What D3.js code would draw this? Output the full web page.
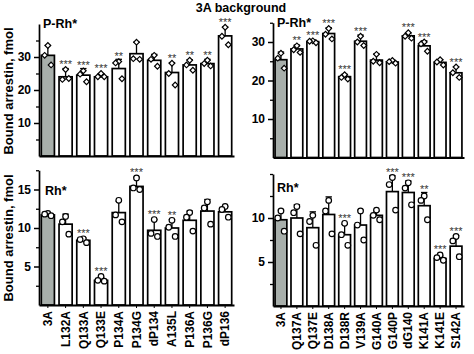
<!DOCTYPE html>
<html>
<head>
<meta charset="utf-8">
<script src="https://cdn.jsdelivr.net/npm/d3@7"></script>
<style>
  body { margin: 0; background: #fff; }
  svg { display: block; font-family: "Liberation Sans", Arial, sans-serif; }
  .stars { opacity: 0.99; }
</style>
</head>
<body>
<div id="chart_div"></div>
<script>
// categories
var leftCats = ["3A", "L132A", "Q133A", "Q133E", "P134A", "P134G", "dP134", "A135L", "P136A", "P136G", "dP136"];
var rightCats = ["3A", "Q137A", "Q137E", "D138A", "D138R", "V139A", "G140A", "G140P", "dG140", "K141A", "K141E", "S142A"];

// P-Rh*, left (mean, SD, single points, significance)
var prhLeftMean = [30.5, 24.0, 24.5, 24.0, 26.5, 31.0, 29.0, 25.3, 27.6, 28.0, 36.4];
var prhLeftSD = [3.0, 2.5, 2.0, 0.8, 2.8, 3.5, 1.8, 3.0, 1.6, 1.3, 2.7];
var prhLeftPts = [[33.5, 30.5, 27.6], [26.2, 23.2, 23.5], [25.8, 24.8, 22.5], [25.0, 24.0, 24.0], [28.6, 28.2, 23.4],
  [34.5, 29.5, 29.3], [30.5, 29.3, 27.2], [28.1, 25.0, 21.5], [29.0, 27.6, 26.0], [29.0, 28.0, 27.3], [39.0, 36.3, 33.7]];
var prhLeftSig = ["", "***", "***", "***", "**", "", "", "**", "**", "**", "***"];

// P-Rh*, right
var prhRightMean = [25.4, 28.2, 30.1, 32.2, 21.0, 30.2, 25.3, 24.8, 31.6, 29.0, 24.7, 22.0];
var prhRightSD = [2.0, 1.0, 0.4, 1.5, 0.6, 1.6, 1.6, 0.4, 0.7, 1.3, 0.7, 1.6];
var prhRightPts = [[27.1, 25.8, 23.2], [29.0, 28.0, 27.3], [30.3, 30.2, 29.8], [33.5, 32.0, 30.8], [21.5, 20.8, 20.4],
  [31.5, 30.0, 29.1], [26.8, 25.0, 24.6], [25.2, 24.9, 24.5], [32.4, 31.5, 31.0], [30.0, 29.5, 27.6], [25.4, 24.8, 24.0], [23.5, 22.0, 20.8]];
var prhRightSig = ["", "**", "***", "***", "***", "***", "", "", "***", "***", "", "***"];

// Rh*, left
var rhLeftMean = [11.7, 10.5, 8.4, 3.2, 12.0, 15.4, 9.7, 10.0, 11.0, 12.2, 12.1];
var rhLeftSD = [0.2, 1.3, 0.3, 0.4, 1.5, 1.2, 1.4, 1.1, 1.2, 1.5, 0.7];
var rhLeftPts = [[11.9, 11.8, 11.6], [11.5, 10.8, 9.2], [8.6, 8.5, 8.1], [3.7, 3.2, 3.1], [13.6, 11.7, 10.8],
  [16.5, 15.2, 15.0], [11.1, 9.3, 8.9], [11.0, 10.1, 8.9], [12.0, 11.4, 9.6], [13.4, 12.6, 10.5], [12.8, 12.4, 11.4]];
var rhLeftSig = ["", "", "***", "***", "", "***", "***", "**", "", "", ""];

// Rh*, right
var rhRightMean = [9.8, 10.0, 8.9, 10.4, 8.1, 9.2, 10.3, 13.0, 12.9, 11.4, 5.4, 6.8];
var rhRightSD = [1.1, 1.5, 1.8, 2.0, 1.2, 1.7, 0.5, 1.8, 1.3, 1.5, 0.3, 1.2];
var rhRightPts = [[10.8, 10.0, 8.5], [11.3, 10.6, 8.2], [10.3, 9.6, 6.9], [12.0, 10.8, 8.2], [9.4, 8.1, 6.9],
  [10.8, 9.2, 7.5], [10.9, 10.3, 9.8], [14.6, 13.8, 10.9], [14.0, 13.4, 11.5], [12.5, 12.0, 9.8], [5.8, 5.5, 5.2], [7.9, 7.4, 5.6]];
var rhRightSig = ["", "", "", "", "***", "", "", "***", "***", "**", "***", "***"];

var panels = [
  { cats: leftCats, mean: prhLeftMean, sd: prhLeftSD, pts: prhLeftPts, sig: prhLeftSig,
    xr: [39, 234], yd: [0, 40], yr: [156, 24], major: [10, 20, 30], minor: [5, 15, 25, 35],
    label: "P-Rh*", lx: 43, ly: 28, sym: "diamond", xlabels: false },
  { cats: rightCats, mean: prhRightMean, sd: prhRightSD, pts: prhRightPts, sig: prhRightSig,
    xr: [273, 464], yd: [0, 35], yr: [157.5, 22.75], major: [10, 20, 30], minor: [5, 15, 25, 35],
    label: "P-Rh*", lx: 277, ly: 27, sym: "diamond", xlabels: false },
  { cats: leftCats, mean: rhLeftMean, sd: rhLeftSD, pts: rhLeftPts, sig: rhLeftSig,
    xr: [39, 234], yd: [0, 17.5], yr: [305, 170.25], major: [5, 10, 15], minor: [2.5, 7.5, 12.5, 17.5],
    label: "Rh*", lx: 45, ly: 195, sym: "circle", xlabels: true },
  { cats: rightCats, mean: rhRightMean, sd: rhRightSD, pts: rhRightPts, sig: rhRightSig,
    xr: [273, 464], yd: [0, 15], yr: [306, 174], major: [5, 10], minor: [2.5, 7.5, 12.5, 15],
    label: "Rh*", lx: 277, ly: 192, sym: "circle", xlabels: true }
];

var svg = d3.select("#chart_div")
  .append("svg")
  .attr("width", 474)
  .attr("height", 354);

// title
svg.append("text")
  .attr("x", 241).attr("y", 12)
  .attr("text-anchor", "middle")
  .attr("font-size", "12.5px").attr("font-weight", "bold")
  .text("3A background");

// y axis titles
[91, 238].forEach(function(cy) {
  svg.append("text")
    .attr("transform", "translate(13," + cy + ") rotate(-90)")
    .attr("text-anchor", "middle")
    .attr("font-size", "13px").attr("font-weight", "bold")
    .text("Bound arrestin, fmol");
});

var jitter = [0, -3.2, 3.2];

panels.forEach(function(p) {
  var g = svg.append("g");

  var x = d3.scaleBand()
    .domain(p.cats)
    .range(p.xr)
    .paddingInner(0.26)
    .paddingOuter(0.13);

  var y = d3.scaleLinear()
    .domain(p.yd)
    .range(p.yr);

  // bars
  g.selectAll("rect.bar")
    .data(p.mean)
    .enter()
    .append("rect")
    .attr("class", "bar")
    .attr("x", function(d, i) { return x(p.cats[i]); })
    .attr("width", x.bandwidth())
    .attr("y", function(d) { return y(d); })
    .attr("height", function(d) { return y(0) - y(d); })
    .attr("fill", function(d, i) { return i === 0 ? "#a8afab" : "#fff"; })
    .attr("stroke", "#000")
    .attr("stroke-width", 1.7);

  // error bars (upper SD)
  p.mean.forEach(function(m, i) {
    var cx = x(p.cats[i]) + x.bandwidth() / 2;
    var top = y(m + p.sd[i]);
    g.append("line")
      .attr("x1", cx).attr("x2", cx)
      .attr("y1", y(m)).attr("y2", top)
      .attr("stroke", "#000").attr("stroke-width", 1.3);
    g.append("line")
      .attr("x1", cx - 3.2).attr("x2", cx + 3.2)
      .attr("y1", top).attr("y2", top)
      .attr("stroke", "#000").attr("stroke-width", 1.3);

    // individual points
    p.pts[i].forEach(function(v, j) {
      if (p.sym === "circle") {
        g.append("circle")
          .attr("cx", cx + jitter[j]).attr("cy", y(v))
          .attr("r", 2.8)
          .attr("fill", "#fff").attr("stroke", "#000").attr("stroke-width", 1.2);
      } else {
        g.append("path")
          .attr("d", d3.symbol().type(d3.symbolSquare).size(16)())
          .attr("transform", "translate(" + (cx + jitter[j]) + "," + y(v) + ") rotate(45)")
          .attr("fill", "#fff").attr("stroke", "#000").attr("stroke-width", 1.2);
      }
    });

    // significance stars
    if (p.sig[i]) {
      var hi = Math.min(top, d3.min(p.pts[i], function(v) { return y(v); }) - 2);
      g.append("text")
        .attr("class", "stars")
        .attr("x", cx).attr("y", hi + 0.5)
        .attr("text-anchor", "middle")
        .attr("font-size", "11px")
        .attr("fill", "#333")
        .text(p.sig[i]);
    }
  });

  // y axis: major ticks
  var yAxis = g.append("g")
    .attr("transform", "translate(" + p.xr[0] + ",0)")
    .call(d3.axisLeft(y).tickValues(p.major).tickSize(5).tickSizeOuter(0).tickFormat(d3.format("d")));
  yAxis.select(".domain").attr("stroke-width", 1.7);
  yAxis.selectAll(".tick line").attr("stroke-width", 1.5);
  yAxis.selectAll("text")
    .attr("font-size", "12px").attr("font-weight", "bold")
    .attr("font-family", "Liberation Sans, Arial, sans-serif")
    .attr("fill", "#000");

  // y axis: minor ticks
  var yMinor = g.append("g")
    .attr("transform", "translate(" + p.xr[0] + ",0)")
    .call(d3.axisLeft(y).tickValues(p.minor).tickSize(3).tickSizeOuter(0).tickFormat(""));
  yMinor.select(".domain").remove();
  yMinor.selectAll(".tick line").attr("stroke-width", 1.3);

  // x axis
  var xAxis = g.append("g")
    .attr("transform", "translate(0," + y(0) + ")")
    .call(d3.axisBottom(x).tickSize(p.xlabels ? 3 : 0).tickSizeOuter(0));
  xAxis.select(".domain").attr("stroke-width", 1.8);
  if (p.xlabels) {
    xAxis.selectAll("text")
      .attr("transform", "rotate(-90)")
      .attr("x", -6).attr("y", 0).attr("dy", "0.35em")
      .attr("text-anchor", "end")
      .attr("font-size", "12px").attr("font-weight", "bold")
      .attr("font-family", "Liberation Sans, Arial, sans-serif")
      .attr("fill", "#000");
  } else {
    xAxis.selectAll("text").remove();
  }

  // panel label
  g.append("text")
    .attr("x", p.lx).attr("y", p.ly)
    .attr("font-size", "12.5px").attr("font-weight", "bold")
    .text(p.label);
});
</script>
</body>
</html>
